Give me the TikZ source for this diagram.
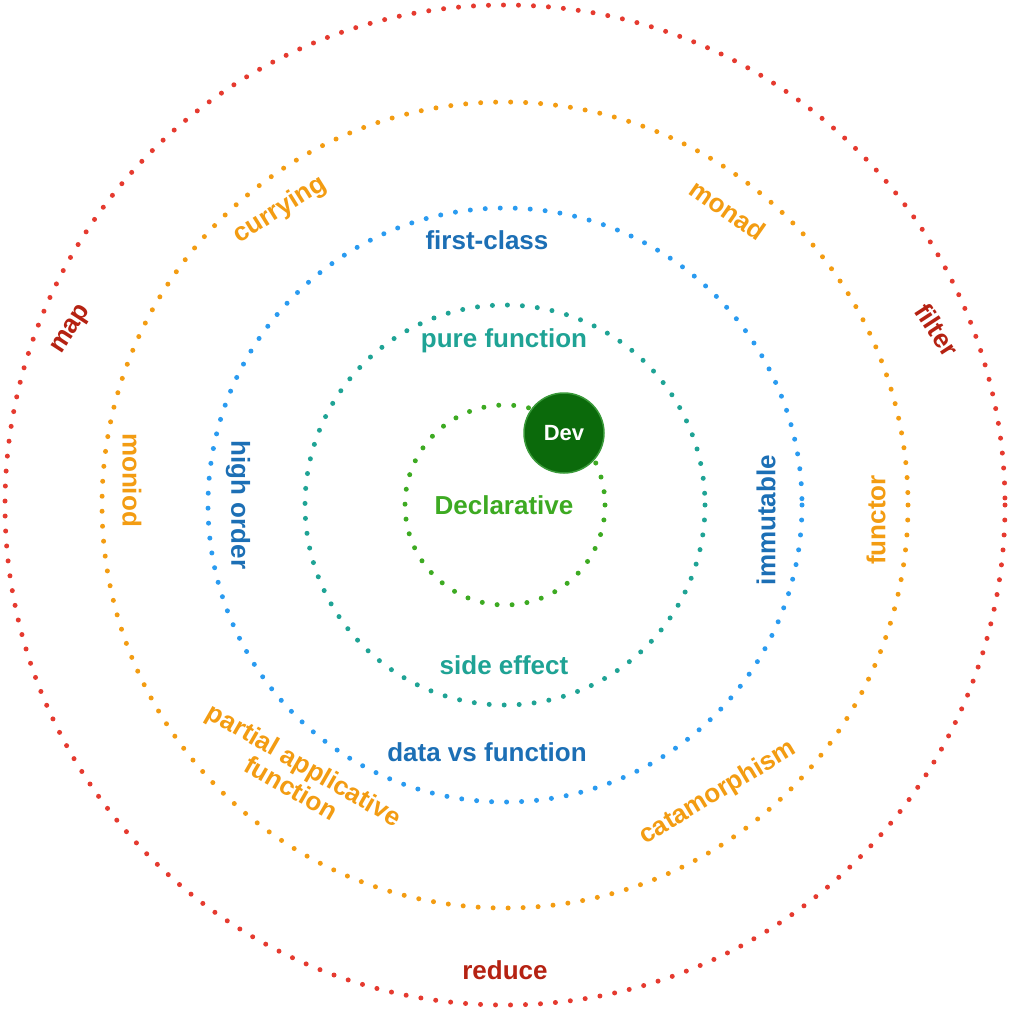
\documentclass[tikz,border=0pt]{standalone}
\usepackage{fontspec}
\setmainfont{Liberation Sans}
\definecolor{cred}{HTML}{E53A2F}
\definecolor{tred}{HTML}{B52212}
\definecolor{corange}{HTML}{F39C12}
\definecolor{cblue}{HTML}{2A9BF0}
\definecolor{tblue}{HTML}{1C6FB5}
\definecolor{cteal}{HTML}{1FA395}
\definecolor{cgreen}{HTML}{3DAA22}
\definecolor{devfill}{HTML}{0B6A0B}
\definecolor{devline}{HTML}{3A9A3A}
\tikzset{
 ring/.style={line width=5pt,dash pattern=on 0pt off 15pt,line cap=round},
 lbl/.style={font=\bfseries\fontsize{26}{27}\selectfont,fill=white,inner sep=2pt,align=center},
}
\begin{document}
\begin{tikzpicture}[x=1pt,y=-1pt]
\useasboundingbox (0,0) rectangle (1010,1010);
\coordinate (c) at (505,505);
\draw[ring,cred] (c) circle[radius=500];
\draw[ring,corange] (c) circle[radius=403];
\draw[ring,cblue] (c) circle[radius=297];
\draw[ring,cteal] (c) circle[radius=200];
\draw[ring,cgreen] (c) circle[radius=100];
\node[lbl,text=tred,rotate=57] (map) at (72,330) {map};
\node[lbl,text=tred,rotate=-57] (filter) at (937,330) {filter};
\node[lbl,text=tred] (reduce) at (505,970) {reduce};
\node[lbl,text=corange,rotate=32] (curry) at (280,210) {currying};
\node[lbl,text=corange,rotate=-35] (monad) at (728,210) {monad};
\node[lbl,text=corange,rotate=-90] (moniod) at (132,480) {moniod};
\node[lbl,text=corange,rotate=90] (functor) at (876,520) {functor};
\node[lbl,text=corange,rotate=-30] (pa) at (298,776) {partial applicative\\function};
\node[lbl,text=corange,rotate=31] (cata) at (718,793) {catamorphism};
\node[lbl,text=tblue] (fc) at (487,240) {first-class};
\node[lbl,text=tblue,rotate=-90] (ho) at (238,505) {high order};
\node[lbl,text=tblue,rotate=90] (imm) at (766,520) {immutable};
\node[lbl,text=tblue] (dvf) at (487,752) {data vs function};
\node[lbl,text=cteal] (pf) at (504,341) {pure function};
\node[lbl,text=cteal] (se) at (504,665) {side effect};
\node[lbl,text=cgreen] (decl) at (504,505) {Declarative};
\node[circle,minimum size=80pt,fill=devfill,draw=devline,line width=1.5pt,text=white,font=\bfseries\fontsize{22}{24}\selectfont] (dev) at (564,433) {Dev};
\end{tikzpicture}
\end{document}
